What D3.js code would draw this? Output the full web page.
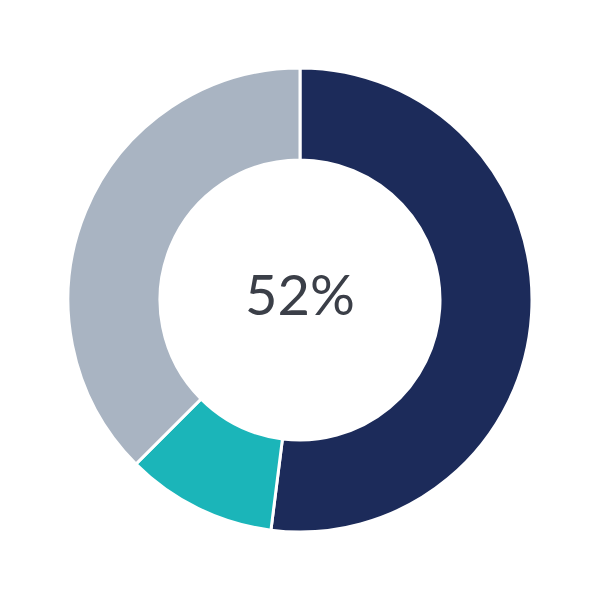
<!DOCTYPE html>
<html>
<head>
<meta charset="utf-8">
<script src="https://cdn.jsdelivr.net/npm/d3@7"></script>
<style>
  body { margin: 0; background: #fff; }
</style>
</head>
<body>
<div id="container"></div>
<script>
let w = 600;
let h = 600;

// slice data, clockwise from 12 o'clock
let labels = ["Navy", "Teal", "Gray"];
let values = [52, 10.5, 37.5];
let colors = ["#1c2b5a", "#1bb5b9", "#a9b4c2"];
let centerLabel = "52%";

let viz = d3.select("#container")
  .append("svg")
    .attr("width", w)
    .attr("height", h)
    .style("background-color", "#ffffff");

let g = viz.append("g")
  .attr("transform", "translate(300,300)");

let pie = d3.pie().sort(null).value(d => d);
let arc = d3.arc().innerRadius(140).outerRadius(232);

g.selectAll("path")
  .data(pie(values))
  .join("path")
    .attr("d", arc)
    .attr("fill", (d, i) => colors[i])
    .attr("stroke", "#ffffff")
    .attr("stroke-width", 3);

g.append("text")
  .attr("x", 0)
  .attr("y", -5)
  .attr("dy", "0.36em")
  .attr("text-anchor", "middle")
  .attr("style", "font-size:56px; font-family: Lato, sans-serif; font-weight:400;")
  .attr("fill", "#3b3f48")
  .text(centerLabel);
</script>
</body>
</html>
